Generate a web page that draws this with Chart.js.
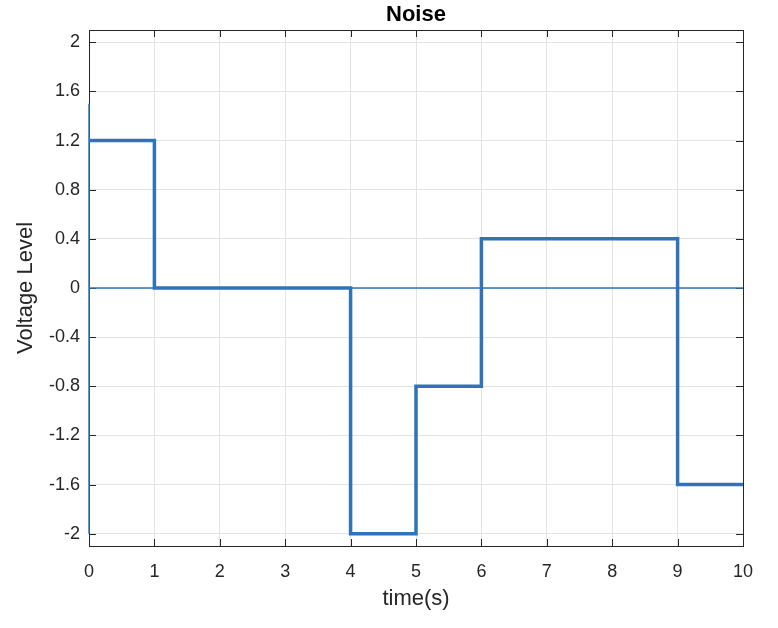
<!DOCTYPE html>
<html>
<head>
<meta charset="utf-8">
<title>Noise</title>
<script src="https://cdn.jsdelivr.net/npm/chart.js@4"></script>
<style>
  html, body { margin: 0; padding: 0; background: #fff; }
  #plot { display: block; }
</style>
</head>
<body>
<canvas id="plot" width="778" height="628"></canvas>
<script>
// stairs data
const timeS = [0, 1, 2, 3, 4, 5, 6, 7, 8, 9, 10];
const voltage = [1.2, 0, 0, 0, -2, -0.8, 0.4, 0.4, 0.4, -1.6, -1.6];

// thin reference lines
const zeroLineX = [0, 10];
const zeroLineY = [0, 0];
const axisLineX = [0, 0];
const axisLineY = [-2, 1.5];

const xTicks = [0, 1, 2, 3, 4, 5, 6, 7, 8, 9, 10];
const yTicks = [-2, -1.6, -1.2, -0.8, -0.4, 0, 0.4, 0.8, 1.2, 1.6, 2];

const toPoints = (xs, ys) => xs.map((x, i) => ({ x: x, y: ys[i] }));

const FONT = "'Liberation Sans', Arial, Helvetica, sans-serif";
const BLUE = '#3173ba';

// box with inward ticks, MATLAB style (drawn under the lines)
const frame = {
    id: 'frame',
    beforeDatasetsDraw(chart) {
        const { ctx, chartArea: a, scales: { x, y } } = chart;
        const len = 7;
        ctx.save();
        ctx.strokeStyle = '#262626';
        ctx.lineWidth = 1;
        ctx.beginPath();
        xTicks.forEach(v => {
            const px = Math.round(x.getPixelForValue(v)) + 0.5;
            ctx.moveTo(px, a.bottom); ctx.lineTo(px, a.bottom - len);
            ctx.moveTo(px, a.top); ctx.lineTo(px, a.top + len);
        });
        yTicks.forEach(v => {
            const py = Math.round(y.getPixelForValue(v)) + 0.5;
            ctx.moveTo(a.left, py); ctx.lineTo(a.left + len, py);
            ctx.moveTo(a.right, py); ctx.lineTo(a.right - len, py);
        });
        ctx.stroke();
        ctx.strokeRect(Math.round(a.left) + 0.5, Math.round(a.top) + 0.5,
            Math.round(a.right - a.left), Math.round(a.bottom - a.top));
        ctx.restore();
    }
};

new Chart(document.getElementById('plot'), {
    type: 'line',
    data: {
        datasets: [
            {
                data: toPoints(timeS, voltage),
                stepped: 'before',
                borderColor: BLUE,
                borderWidth: 3.5,
                pointRadius: 0,
                fill: false
            },
            {
                data: toPoints(zeroLineX, zeroLineY),
                borderColor: BLUE,
                borderWidth: 1.3,
                pointRadius: 0
            },
            {
                data: toPoints(axisLineX, axisLineY),
                borderColor: BLUE,
                borderWidth: 1.5,
                pointRadius: 0,
                clip: 3
            }
        ]
    },
    options: {
        responsive: false,
        animation: false,
        devicePixelRatio: 1,
        layout: { padding: { left: 0, right: 35, top: 0, bottom: 0 } },
        plugins: {
            legend: { display: false },
            tooltip: { enabled: false },
            title: {
                display: true,
                text: 'Noise',
                fullSize: false,
                color: '#000',
                font: { family: FONT, size: 22, weight: 'bold' },
                padding: { top: 2, bottom: 1.6 }
            }
        },
        scales: {
            x: {
                type: 'linear',
                min: 0,
                max: 10,
                afterBuildTicks: s => { s.ticks = xTicks.map(v => ({ value: v })); },
                afterFit: s => { s.height = 82; },
                grid: { color: '#e3e3e3', drawTicks: false },
                border: { display: false },
                ticks: {
                    color: '#262626',
                    padding: 15,
                    maxRotation: 0,
                    font: { family: FONT, size: 18 },
                    callback: v => String(v)
                },
                title: {
                    display: true,
                    text: 'time(s)',
                    color: '#262626',
                    font: { family: FONT, size: 22 },
                    padding: { top: 0, bottom: 16 }
                }
            },
            y: {
                type: 'linear',
                min: -2.1,
                max: 2.1,
                afterBuildTicks: s => { s.ticks = yTicks.map(v => ({ value: v })); },
                afterFit: s => { s.width = 89; },
                grid: { color: '#e3e3e3', drawTicks: false },
                border: { display: false },
                ticks: {
                    color: '#262626',
                    padding: 9,
                    font: { family: FONT, size: 18 },
                    callback: v => String(Math.round(v * 10) / 10)
                },
                title: {
                    display: true,
                    text: 'Voltage Level',
                    color: '#262626',
                    font: { family: FONT, size: 22 },
                    padding: { top: 13, bottom: 0 }
                }
            }
        }
    },
    plugins: [frame]
});
</script>
</body>
</html>
